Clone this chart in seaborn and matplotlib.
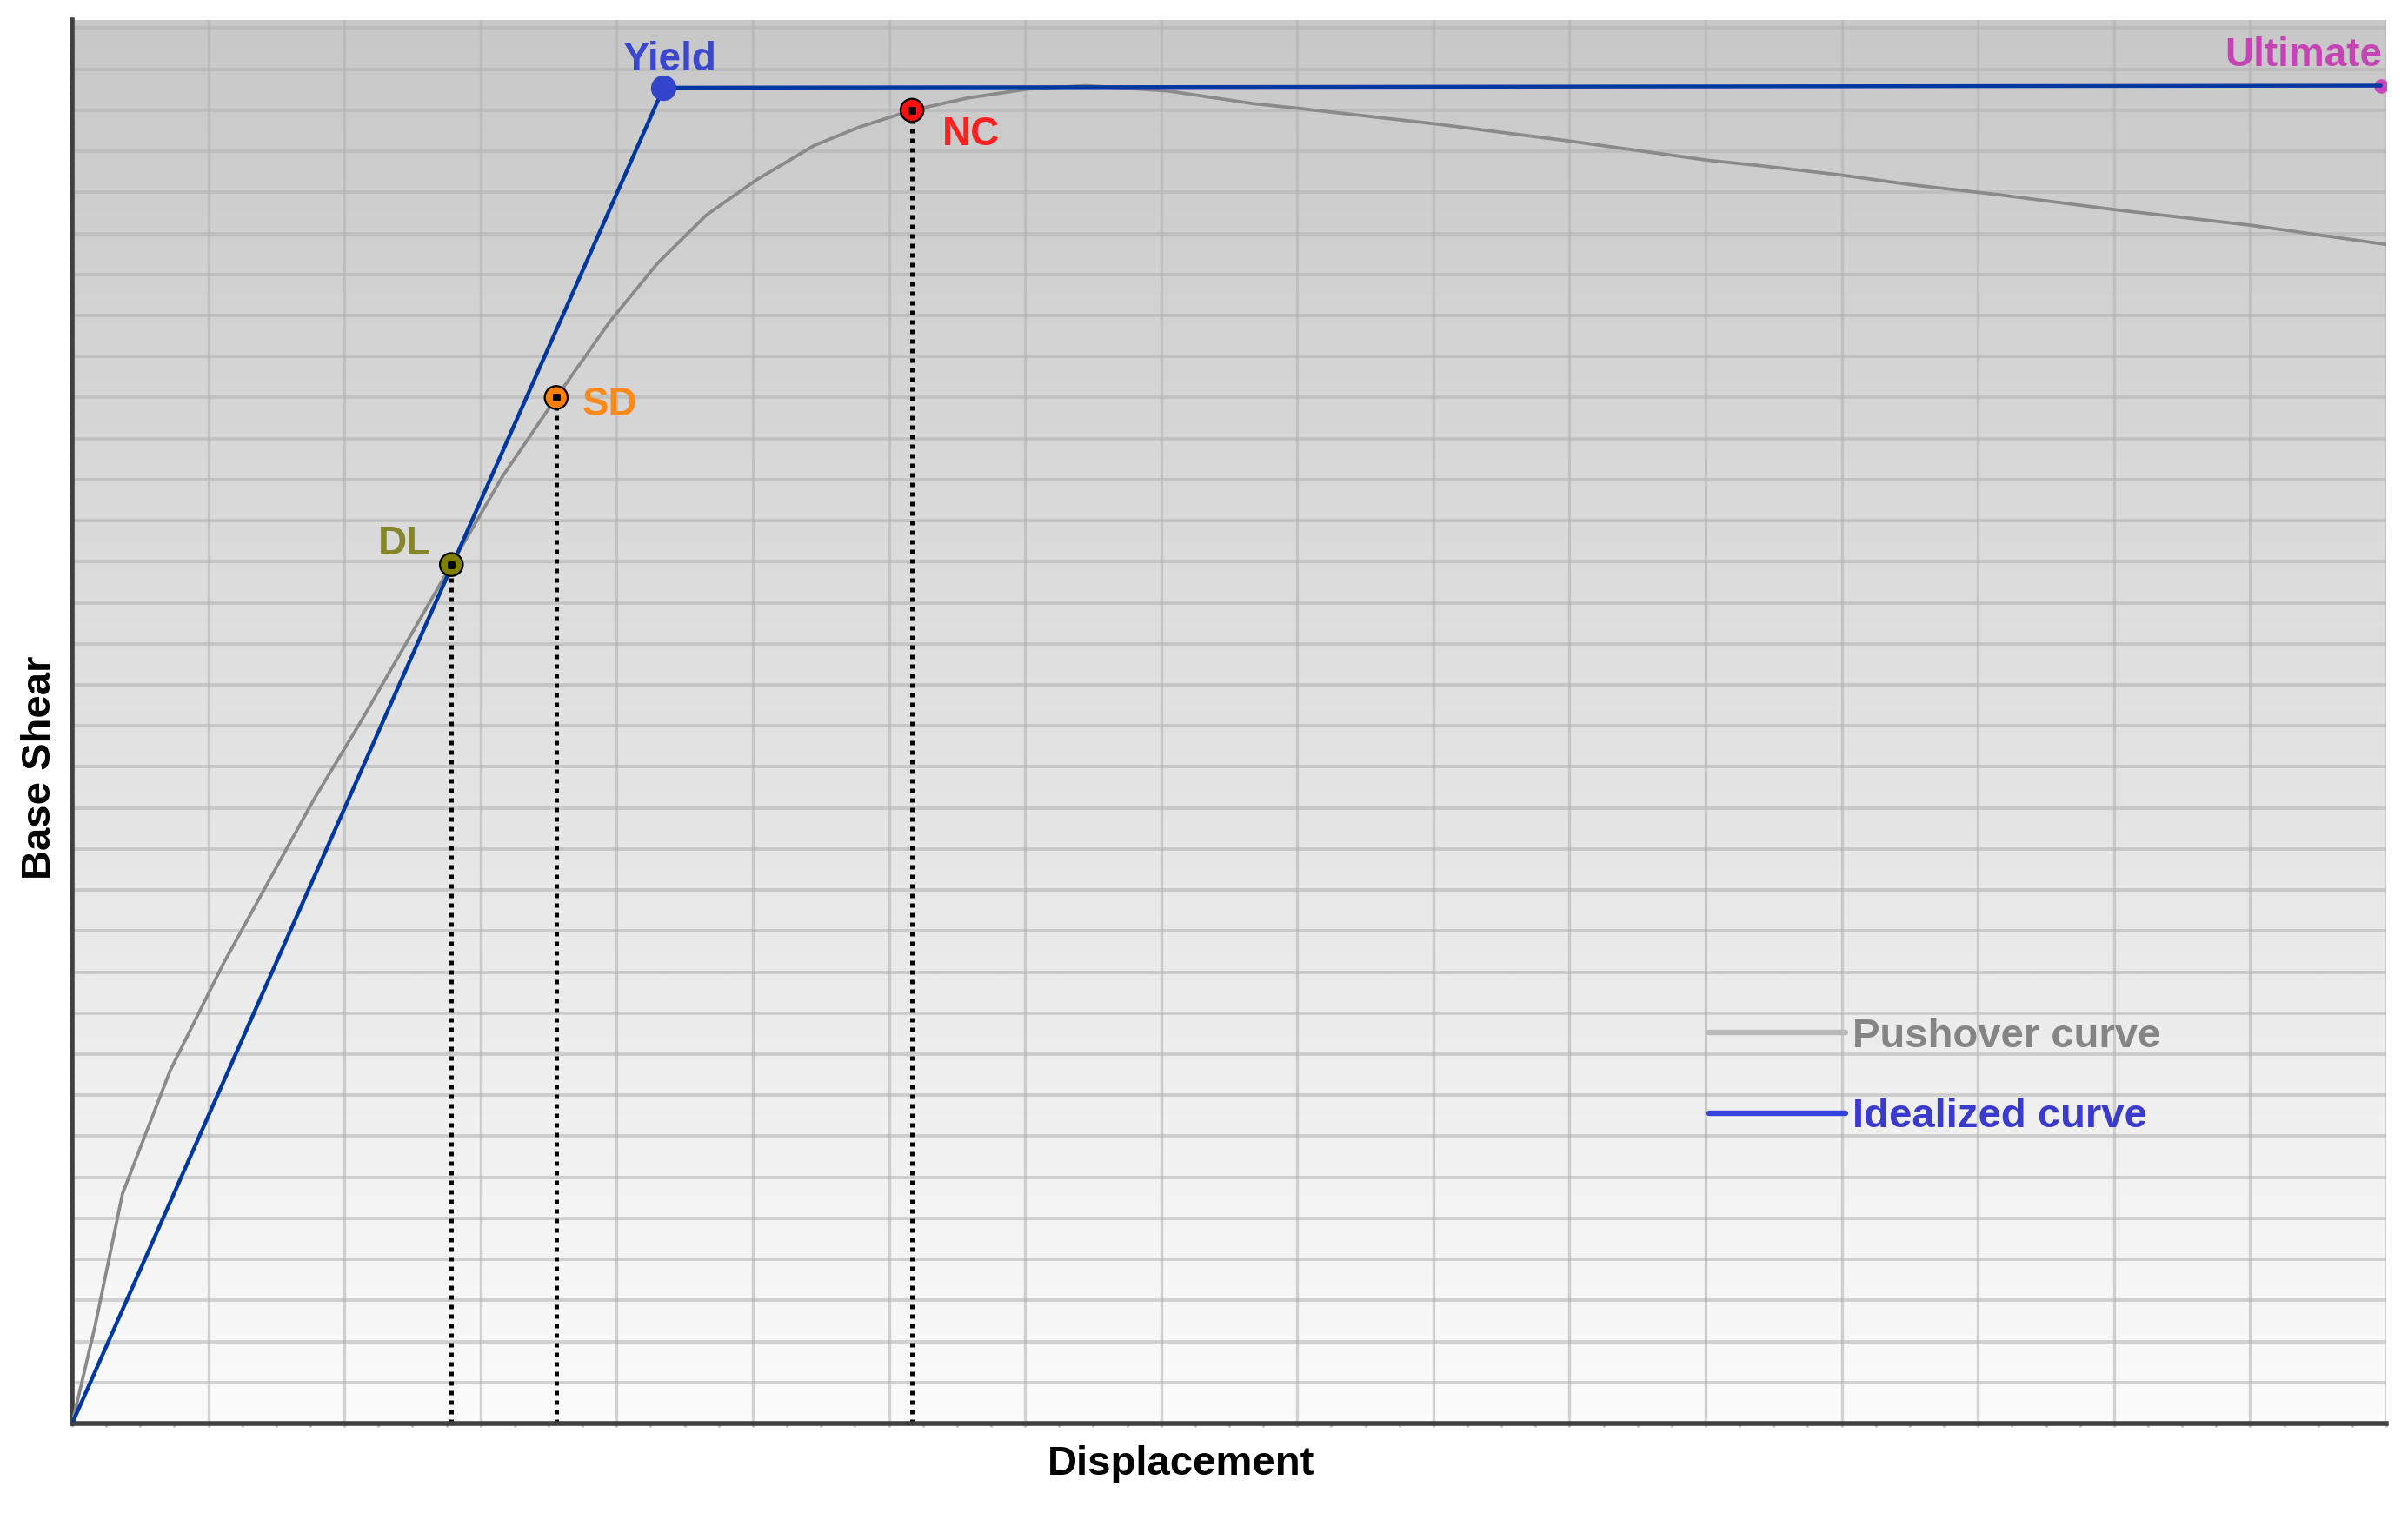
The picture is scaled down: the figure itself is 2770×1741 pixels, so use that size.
import numpy as np
import pandas as pd
import matplotlib
matplotlib.use('Agg')
import matplotlib.pyplot as plt
import seaborn as sns
from matplotlib.colors import LinearSegmentedColormap
from matplotlib.lines import Line2D
from matplotlib.ticker import MultipleLocator

# ---------------- data (grid units) ----------------
push_x = [0.0, 0.17, 0.37, 0.72, 1.11, 1.45, 1.78,
          2.12, 2.46, 2.786, 3.16, 3.556, 3.95, 4.30, 4.66, 5.03, 5.45,
          5.79, 6.17, 6.58, 7.03, 7.45, 8.05, 8.68, 9.0, 10.01, 11.0,
          12.02, 12.43, 13.0, 13.5, 14.16, 15.0, 16.0, 17.0]
push_y = [0.0, 2.4, 5.6, 8.6, 11.2, 13.25, 15.23,
          17.1, 19.05, 20.93, 23.07, 25.0, 26.85, 28.27, 29.45, 30.31, 31.14,
          31.6, 32.0, 32.3, 32.52, 32.6, 32.47, 32.16, 32.05, 31.67, 31.25,
          30.78, 30.64, 30.42, 30.19, 29.94, 29.58, 29.2, 28.73]

ideal_x = [0.0, 4.345, 16.96]
ideal_y = [0.0, 32.55, 32.6]

perf_names = ['DL', 'SD', 'NC']
perf_x = [2.786, 3.556, 6.17]
perf_y = [20.93, 25.0, 32.0]

yield_x, yield_y = 4.345, 32.55
ult_x, ult_y = 16.96, 32.6

x_max = 17.0
y_max = 34.2

legend_labels = ['Pushover curve', 'Idealized curve']
x_label = 'Displacement'
y_label = 'Base Shear'

# ---------------- style ----------------
sns.set_theme(style='white')
plt.rcParams['font.family'] = ['Liberation Sans', 'DejaVu Sans']

fig = plt.figure(figsize=(13.85, 8.705), dpi=200)
ax = fig.add_axes([0.02996, 0.05916, 0.96101, 0.92763])

# gradient background
grad = np.linspace(1, 0, 256)[:, None]
bg_cmap = LinearSegmentedColormap.from_list('bg', ['#fbfbfb', '#c8c8c8'])
ax.imshow(grad, cmap=bg_cmap, extent=[0, x_max, 0, y_max], aspect='auto',
          origin='upper', interpolation='bicubic', zorder=0)

ax.set_xlim(0, x_max)
ax.set_ylim(0, y_max)

ax.xaxis.set_major_locator(MultipleLocator(1))
ax.xaxis.set_minor_locator(MultipleLocator(0.25))
ax.yaxis.set_major_locator(MultipleLocator(1))
ax.yaxis.set_minor_locator(MultipleLocator(0.2))
ax.tick_params(labelbottom=False, labelleft=False)
ax.tick_params(axis='x', which='both', bottom=True, direction='out',
               length=1.4, width=0.9, color='#b5b5b5')
ax.tick_params(axis='y', which='both', left=True, direction='out',
               length=1.2, width=0.9, color='#a5a5a5')

ax.set_axisbelow(True)
ax.grid(which='major', axis='y', color='#b2b2b2', alpha=0.56, linewidth=1.4)
ax.grid(which='major', axis='x', color='#b2b2b2', alpha=0.56, linewidth=1.2)

for side in ['top', 'right']:
    ax.spines[side].set_visible(False)
for side in ['left', 'bottom']:
    ax.spines[side].set_color('#404040')
    ax.spines[side].set_linewidth(2.0)

# ---------------- curves ----------------
push_df = pd.DataFrame({'x': push_x, 'y': push_y})
ideal_df = pd.DataFrame({'x': ideal_x, 'y': ideal_y})
sns.lineplot(data=push_df, x='x', y='y', sort=False, estimator=None,
             color='#8a8a8a', linewidth=1.35, ax=ax, zorder=3)
sns.lineplot(data=ideal_df, x='x', y='y', sort=False, estimator=None,
             color='#0038a0', linewidth=1.6, ax=ax, zorder=4)

# dotted drops
ax.vlines(perf_x, 0, perf_y, colors='black', linestyles=(0, (1, 1.2)),
          linewidth=1.8, zorder=2.5)

# markers
perf_df = pd.DataFrame({'x': perf_x, 'y': perf_y, 'name': perf_names})
sns.scatterplot(data=perf_df, x='x', y='y', hue='name',
                palette={'DL': '#808000', 'SD': '#ff8000', 'NC': '#ff1010'},
                s=90, edgecolor='black', linewidth=0.8, legend=False,
                ax=ax, zorder=5)
ax.scatter(perf_x, perf_y, marker='s', s=3.5, color='black', zorder=6)

sns.scatterplot(x=[yield_x], y=[yield_y], color='#3344cc', edgecolor='#3344cc',
                s=95, legend=False, ax=ax, zorder=6)
sns.scatterplot(x=[ult_x], y=[ult_y], color='#cc44bb', edgecolor='#cc44bb',
                s=30, legend=False, ax=ax, zorder=3.5)

# point labels
tkw = dict(fontsize=16.5, fontweight='bold', va='baseline')
ax.text(4.387, 32.97, 'Yield', ha='center', color='#3b47cc', **tkw)
ax.text(16.97, 33.07, 'Ultimate', ha='right', color='#c544b4', **tkw)
ax.text(6.39, 31.16, 'NC', ha='left', color='#ff2020', **tkw)
ax.text(3.744, 24.56, 'SD', ha='left', color='#ff8a1a', **tkw)
ax.text(2.637, 21.17, 'DL', ha='right', color='#85852a', **tkw)

# legend
handles = [Line2D([], [], color='#b9b9b9', lw=2.3),
           Line2D([], [], color='#3344dd', lw=2.3)]
ax.legend(handles, legend_labels, loc='upper left',
          bbox_to_anchor=(0.7074, 0.2894), frameon=False, borderpad=0,
          borderaxespad=0, handlelength=3.32, handletextpad=0.17,
          labelspacing=1.03,
          prop={'family': 'Liberation Sans', 'weight': 'bold', 'size': 17},
          labelcolor=['#858585', '#3a3acc'])

# axis titles
ax.set_xlabel('')
ax.set_ylabel('')
ax.text(0.479, -0.029, x_label, transform=ax.transAxes, ha='center',
        va='center', fontsize=17, fontweight='bold', color='black',
        clip_on=False)
ax.text(-0.0139, 0.4675, y_label, transform=ax.transAxes, ha='center',
        va='center', rotation=90, fontsize=17, fontweight='bold',
        color='black', clip_on=False)

fig.savefig('out.png', dpi=200)
